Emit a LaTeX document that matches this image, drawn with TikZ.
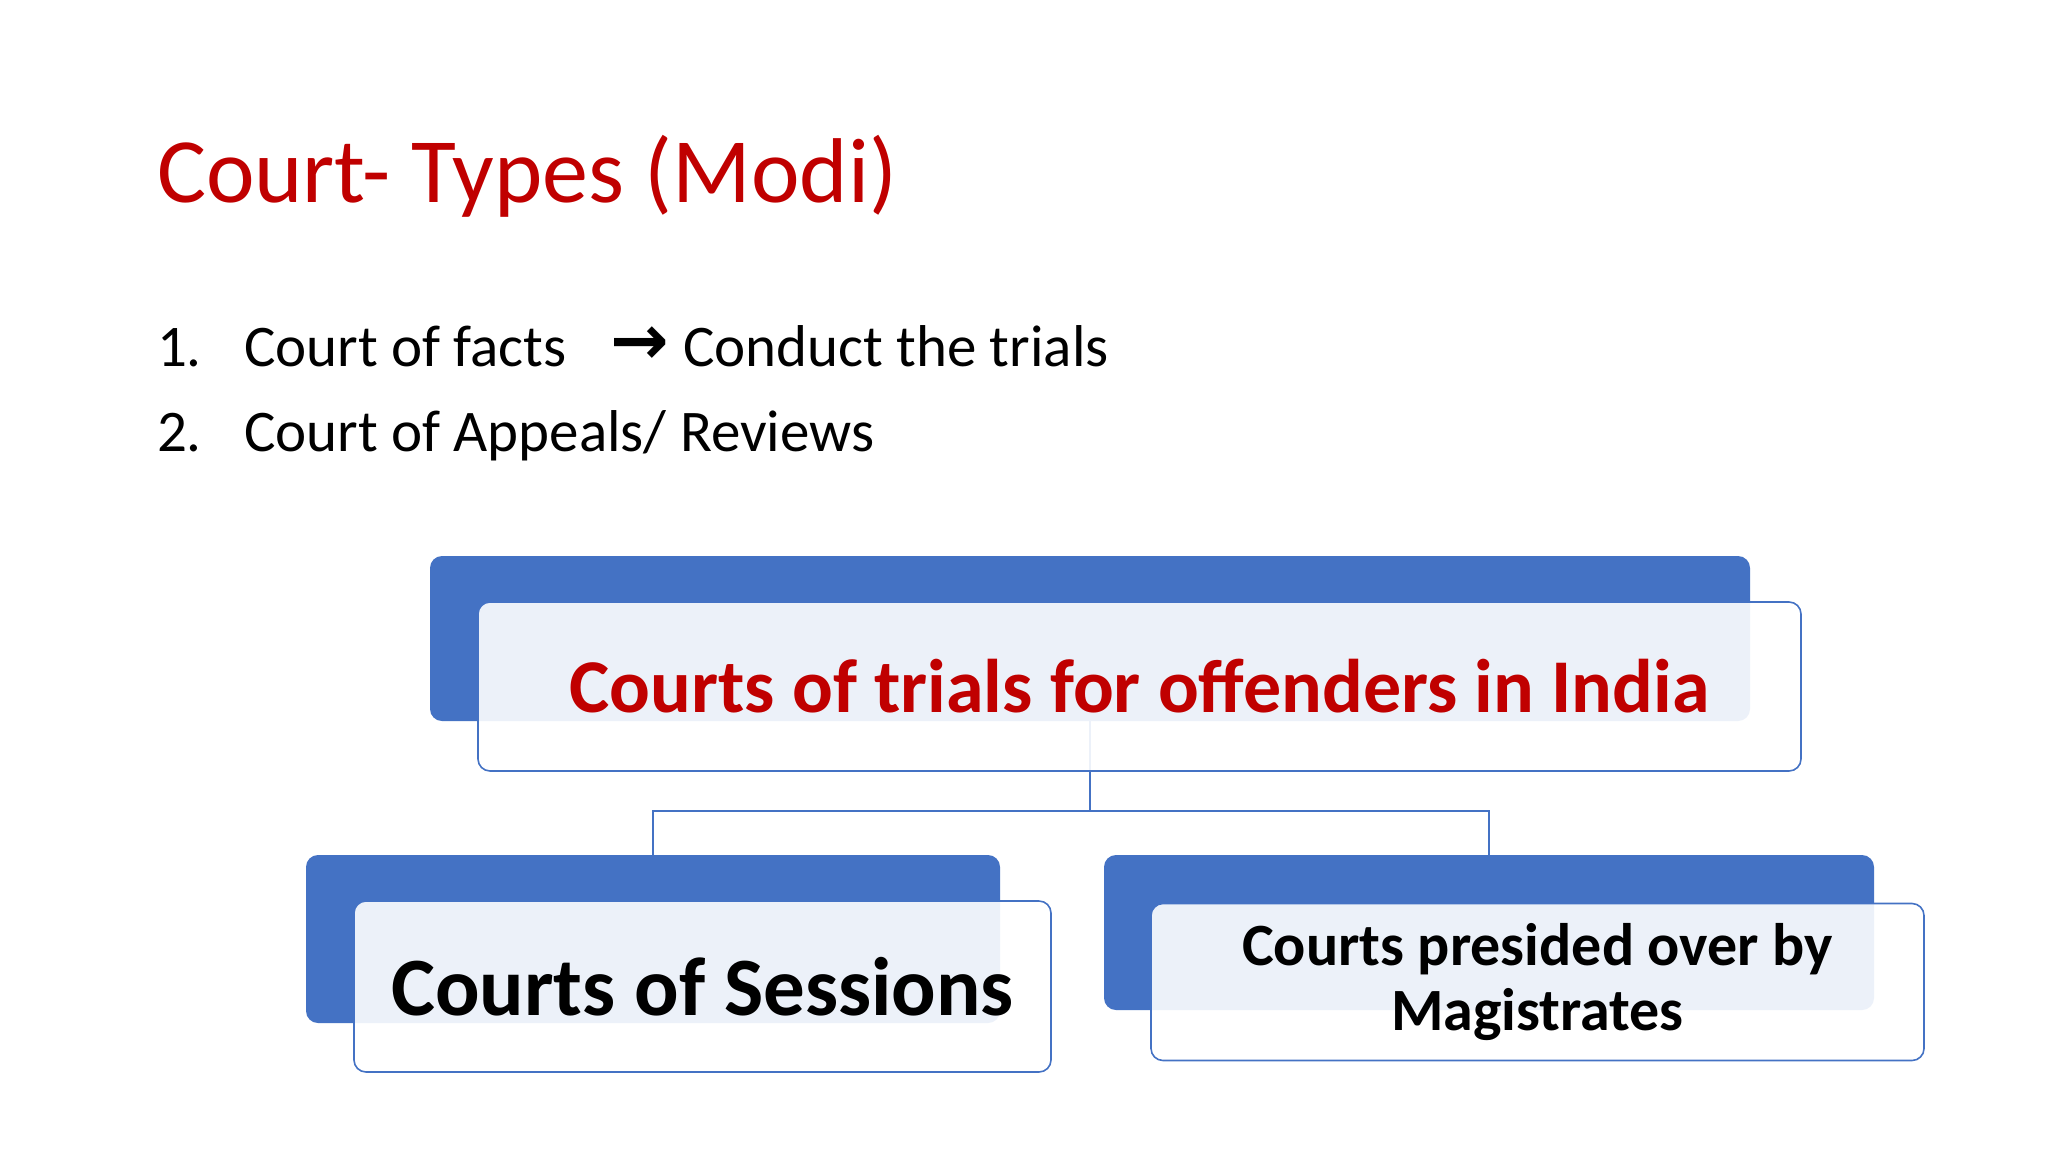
\documentclass[tikz,border=0pt]{standalone}
\usepackage{fontspec}
\setmainfont{Carlito}
\newfontfamily\symfont{DejaVu Sans}
\definecolor{boxblue}{HTML}{4472C4}
\definecolor{titlered}{HTML}{C00000}
\begin{document}
\begin{tikzpicture}[x=0.5pt, y=-0.5pt,
every node/.style={inner sep=0pt, outer sep=0pt},
item/.style={anchor=base west, font=\fontsize{29.5}{35}\selectfont},
backbox/.style={fill=boxblue, rounded corners=6pt},
frontbox/.style={draw=boxblue, line width=0.8pt, fill=white, fill opacity=0.9, text opacity=1, rounded corners=6pt, align=center},
link/.style={draw=boxblue, line width=0.8pt},
]
\fill[white] (0,0) rectangle (2048,1152);
\useasboundingbox (0,0) rectangle (2048,1152);
% title and list
\node [anchor=base west, text=titlered, font=\fontsize{46}{55}\selectfont] (title) at (157,202) {Court- Types (Modi)};
\node [item] (n1) at (157,366) {1.};
\node [item] (facts) at (244,366) {Court of facts};
\node [item, font=\fontsize{35}{40}\symfont\bfseries] (arr) at (610,364) {→};
\node [item] (trials) at (683,366) {Conduct the trials};
\node [item] (n2) at (157,451) {2.};
\node [item] (appeals) at (244,451) {Court of Appeals/ Reviews};
% blue backs
\node [backbox, minimum width=660pt, minimum height=82.5pt] (top-b) at (1090,638.5) {};
\node [backbox, minimum width=347pt, minimum height=84pt] (sess-b) at (653,939) {};
\node [backbox, minimum width=385pt, minimum height=77.5pt] (mag-b) at (1489,932.5) {};
% connectors
\coordinate (split) at (1090,811);
\draw [link] (top-b.south) -- (split) -| (sess-b.north);
\draw [link] (split) -| (mag-b.north);
% front boxes
\node [frontbox, minimum width=661.5pt, minimum height=84.5pt, text=titlered, font=\fontsize{38}{46}\selectfont\bfseries] (top) at (1139.5,686.5) {Courts of trials for offenders in India};
\node [frontbox, minimum width=348.5pt, minimum height=85.5pt, font=\fontsize{41.5}{50}\selectfont\bfseries] (sess) at (702.5,986.5) {Courts of Sessions};
\node [frontbox, minimum width=386.5pt, minimum height=78.5pt, font=\fontsize{30}{32.5}\selectfont\bfseries] (mag) at (1537.5,982) {Courts presided over by\\Magistrates};
\end{tikzpicture}
\end{document}
